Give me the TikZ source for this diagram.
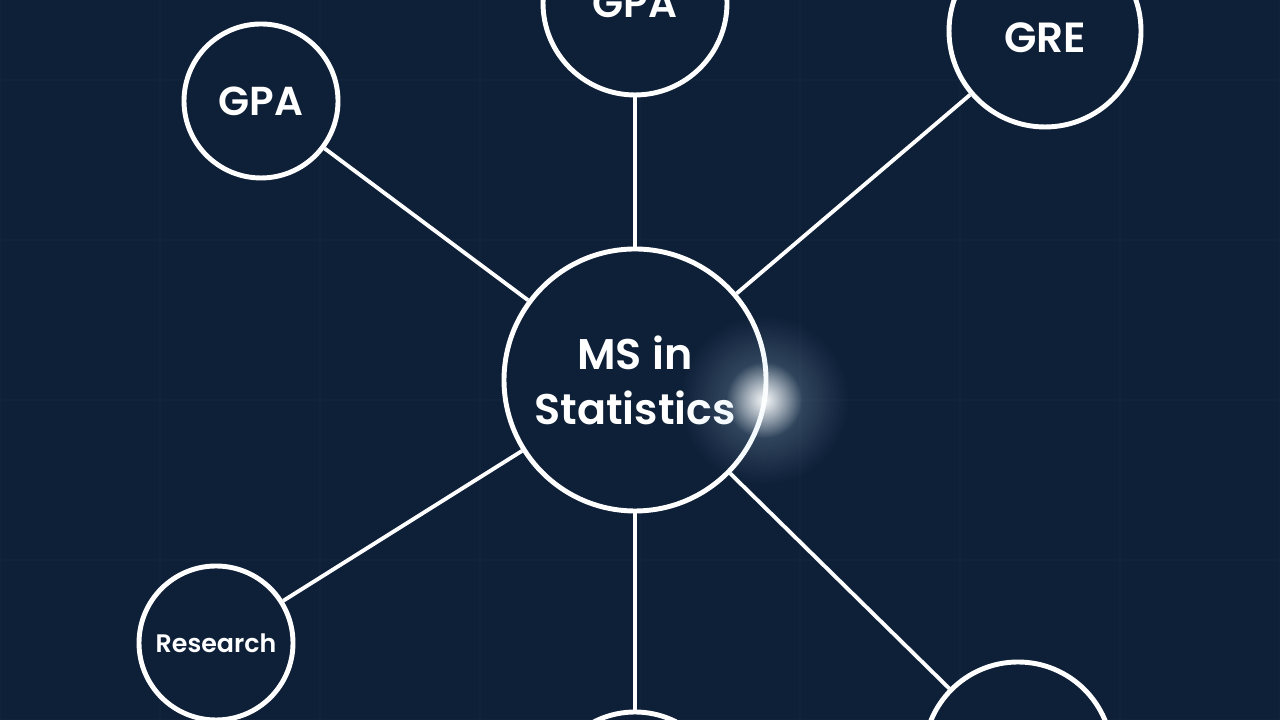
\documentclass[tikz,border=0pt]{standalone}
\usepackage{fontspec}
\setmainfont{Poppins}[BoldFont = {Poppins SemiBold}]
\usetikzlibrary{fadings}

\definecolor{navybg}{HTML}{0E1F38}
\definecolor{glowblue}{HTML}{BFE3F5}
\tikzfading[name=glowfade, inner color=transparent!0, outer color=transparent!100]

\begin{document}
\begin{tikzpicture}[
            spoke/.style = {draw = white, line width = 1.1pt}, % connector style
            topic/.style = {
                circle,
                draw = white,
                line width = 1.4pt,
                fill = navybg,
                text = white,
                font = \bfseries\fontsize{11.5}{14}\selectfont,
                inner sep = 0pt
            }
        ]

        \useasboundingbox (0,0) rectangle (12.8,7.2);
        \fill[navybg] (0,0) rectangle (12.8,7.2);

        % faint grid behind everything
        \draw[white, opacity = 0.015, line width = 0.6pt, step = 1.6] (0,0) grid (12.8,7.2);

        \node[topic, minimum size = 2.62cm, align = center,
              font = \bfseries\fontsize{12.2}{15.6}\selectfont] (ms) at (6.35,3.40) {MS in\\Statistics};
        \node[topic, minimum size = 1.84cm] (gpa1) at (6.35,7.17) {GPA};
        \node[topic, minimum size = 1.92cm, font = \bfseries\fontsize{12}{14}\selectfont,
              text height = 0.44cm, text depth = 0pt] (gre) at (10.45,6.89) {GRE};
        \node[topic, minimum size = 1.54cm] (gpa2) at (2.61,6.19) {GPA};
        \node[topic, minimum size = 1.54cm, font = \bfseries\fontsize{7.2}{9}\selectfont] (res) at (2.16,0.77) {Research};
        \node[topic, minimum size = 1.80cm] (low) at (6.35,-0.82) {};
        \node[topic, minimum size = 1.88cm] (lowright) at (10.18,-0.36) {};

	\path[spoke] (ms) edge (gpa1);
	\path[spoke] (ms) edge (gre);
	\path[spoke] (ms) edge (gpa2);
	\path[spoke] (ms) edge (res);
	\path[spoke] (ms) edge (low);
	\path[spoke] (ms) edge (lowright);

        % light flare on the right rim
        \coordinate (flare) at (7.64,3.20);
        \fill[glowblue, opacity = 0.35, path fading = glowfade] (flare) circle (0.85);
        \fill[white, opacity = 0.95, path fading = glowfade] (flare) circle (0.38);
    \end{tikzpicture}
\end{document}
